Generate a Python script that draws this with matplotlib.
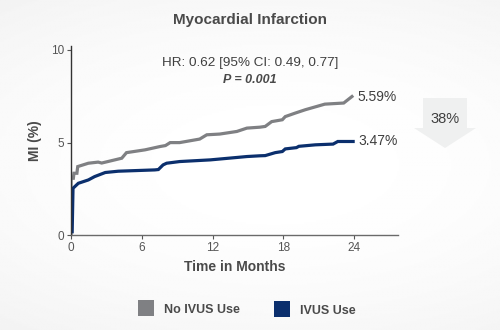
import numpy as np
import matplotlib
matplotlib.use("Agg")
import matplotlib.pyplot as plt
from matplotlib.patches import Polygon, Rectangle

plt.rcParams['font.family'] = ['Liberation Sans', 'DejaVu Sans']

# Cumulative MI incidence (%) by month
months_no_ivus = [0.0, 0.0, 0.2, 0.25, 0.5, 0.57, 1.47, 2.3, 2.6, 4.3, 4.7, 6.27, 7.55, 8.0, 8.4,
                  9.2, 10.9, 11.5, 12.6, 14.05, 14.9, 16.0, 16.45, 17.0, 17.9, 18.15, 19.0,
                  19.85, 21.5, 23.1, 23.8]
mi_no_ivus = [0.0, 3.08, 3.08, 3.35, 3.35, 3.71, 3.89, 3.95, 3.9, 4.16, 4.46, 4.61, 4.79, 4.84, 5.0,
              5.0, 5.19, 5.42, 5.46, 5.6, 5.78, 5.83, 5.87, 6.13, 6.23, 6.4, 6.59,
              6.77, 7.07, 7.13, 7.48]

months_ivus = [0.0, 0.1, 0.17, 0.62, 1.47, 2.0, 2.9, 4.0, 7.1, 7.4, 7.8, 8.1, 9.2, 11.8, 14.05,
               14.9, 16.0, 16.45, 17.3, 17.9, 18.15, 19.1, 19.3, 20.7, 22.2, 22.6, 23.9]
mi_ivus = [0.2, 0.2, 2.54, 2.81, 2.99, 3.17, 3.39, 3.46, 3.53, 3.55, 3.8, 3.89, 3.98, 4.07, 4.2,
           4.25, 4.29, 4.3, 4.46, 4.52, 4.66, 4.73, 4.8, 4.88, 4.92, 5.06, 5.06]

xticks = [0, 6, 12, 18, 24]
yticks = [0, 5, 10]
end_labels = ["5.59%", "3.47%"]
reduction_label = "38%"
series_names = ["No IVUS Use", "IVUS Use"]

GREY = "#7f8083"
NAVY = "#0b2f6d"
TEXT = "#4a4a4a"

fig = plt.figure(figsize=(5.0, 3.3), dpi=100)

# soft background shading, lightest in the middle
bg = fig.add_axes([0, 0, 1, 1], zorder=-10)
yy, xx = np.mgrid[0:1:200j, 0:1:300j]
r = np.sqrt(((xx - 0.55) / 0.75) ** 2 + ((yy - 0.5) / 0.55) ** 2)
shade = 1 - 0.035 * np.clip(r, 0, 1.3) ** 2
bg.imshow(shade, cmap="gray", vmin=0, vmax=1, extent=[0, 1, 0, 1], aspect="auto",
          origin="lower", interpolation="bilinear")
bg.axis("off")

ax = fig.add_axes([0.142, 0.2864, 0.654, 0.5742])
ax.patch.set_alpha(0)
ax.plot(months_no_ivus, mi_no_ivus, color=GREY, lw=2.3, solid_joinstyle="miter")
ax.plot(months_ivus, mi_ivus, color=NAVY, lw=2.3, solid_joinstyle="miter")
ax.set_xlim(0, 27.7)
ax.set_ylim(0, 10.2)
ax.set_xticks(xticks)
ax.set_yticks(yticks)
for s in ["top", "right"]:
    ax.spines[s].set_visible(False)
ax.spines["left"].set_color("#333333")
ax.spines["bottom"].set_color("#6a6a6a")
ax.spines["left"].set_linewidth(1.0)
ax.spines["bottom"].set_linewidth(1.0)
ax.tick_params(axis="both", length=3, width=0.8, color="#555555", labelcolor="#555555",
               labelsize=8.5, pad=2)
ax.set_xlabel("Time in Months", fontsize=10, fontweight="bold", color=TEXT, labelpad=4)
ax.set_ylabel("MI (%)", fontsize=10, fontweight="bold", color=TEXT, labelpad=6)

# end-of-curve values
ax.annotate(end_labels[0], xy=(months_no_ivus[-1], mi_no_ivus[-1]),
            xytext=(4, 0), textcoords="offset points", va="center", ha="left",
            fontsize=10, color="#3f3f3f")
ax.annotate(end_labels[1], xy=(months_ivus[-1], mi_ivus[-1]),
            xytext=(4, 0), textcoords="offset points", va="center", ha="left",
            fontsize=10, color="#3f3f3f")

fig.text(0.5, 0.938, "Myocardial Infarction", ha="center", va="center",
         fontsize=11, fontweight="bold", color=TEXT)
fig.text(0.5, 0.808, "HR: 0.62 [95% CI: 0.49, 0.77]", ha="center", va="center",
         fontsize=9.7, color="#3f3f3f")
fig.text(0.5, 0.757, "P = 0.001", ha="center", va="center", fontsize=9,
         fontstyle="italic", fontweight="bold", color=TEXT)

# reduction arrow
arrow_px = np.array([[423, 98], [467, 98], [467, 128], [476, 128], [445, 148],
                     [414, 128], [423, 128]], dtype=float)
arrow_px[:, 0] = arrow_px[:, 0] / 500
arrow_px[:, 1] = 1 - arrow_px[:, 1] / 330
fig.patches.append(Polygon(arrow_px, closed=True, facecolor="#eff0f0", edgecolor="none",
                           transform=fig.transFigure))
fig.text(445 / 500, 1 - 119 / 330, reduction_label, ha="center", va="center",
         fontsize=10.5, color="#3f3f3f")

# legend
fig.patches.append(Rectangle((138 / 500, 1 - 316 / 330), 16 / 500, 16 / 330,
                             facecolor=GREY, edgecolor="none", transform=fig.transFigure))
fig.text(164 / 500, 1 - 310 / 330, series_names[0], ha="left", va="center",
         fontsize=9, fontweight="bold", color=TEXT)
fig.patches.append(Rectangle((274 / 500, 1 - 317 / 330), 16 / 500, 16 / 330,
                             facecolor=NAVY, edgecolor="none", transform=fig.transFigure))
fig.text(300 / 500, 1 - 311 / 330, series_names[1], ha="left", va="center",
         fontsize=9, fontweight="bold", color=TEXT)

fig.savefig("out.png", dpi=100)
